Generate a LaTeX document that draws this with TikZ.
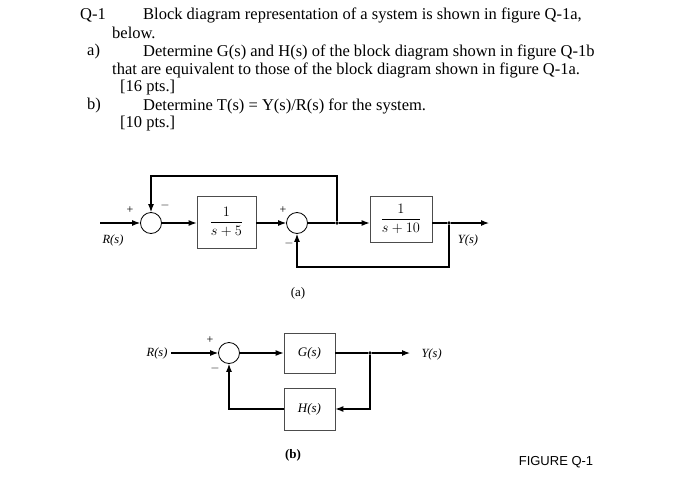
\documentclass[tikz,border=0pt]{standalone}
\usepackage{fontspec}
\setmainfont{Liberation Serif}
\newfontfamily\arialf{Liberation Sans}
\usetikzlibrary{arrows.meta}
\begin{document}
\begin{tikzpicture}[x=1pt,y=-1pt,
  txt/.style={anchor=west,inner sep=0pt,font=\fontsize{16.5}{19}\selectfont},
  blk/.style={draw,minimum width=60pt,minimum height=50pt,inner sep=0pt,line width=0.8pt,draw=black!70,font=\fontsize{13}{15}\selectfont},
  sumj/.style={draw,circle,minimum size=21pt,inner sep=0pt,line width=0.8pt},
  sig/.style={line width=1.1pt,-{Latex[length=8pt,width=6pt]}},
  ln/.style={line width=1.1pt},
  dot/.style={circle,fill,inner sep=1.3pt},
  lab/.style={font=\itshape\fontsize{12.5}{14}\selectfont},
  sg/.style={font=\fontsize{12}{14}\selectfont,inner sep=0pt}]
\useasboundingbox (0,0) rectangle (700,500);
\node[txt] (t1) at (80,15) {Q-1};
\node[txt] (t2) at (143,15) {Block diagram representation of a system is shown in figure Q-1a,};
\node[txt] (t3) at (112,33) {below.};
\node[txt] (t4) at (87,52) {a)};
\node[txt] (t5) at (143,52) {Determine G(s) and H(s) of the block diagram shown in figure Q-1b};
\node[txt] (t6) at (112,70) {that are equivalent to those of the block diagram shown in figure Q-1a.};
\node[txt] (t7) at (120,88) {[16 pts.]};
\node[txt] (t8) at (87,106) {b)};
\node[txt] (t9) at (143,106) {Determine T(s) = Y(s)/R(s) for the system.};
\node[txt] (t10) at (120,124) {[10 pts.]};
% (a)
\coordinate (ain) at (100,223);
\node[sumj] (s1) at (151,223) {};
\node[blk,minimum width=59pt,minimum height=52pt,font=\fontsize{15}{17}\selectfont] (b1) at (226.5,222) {$\displaystyle\frac{1}{s+5}$};
\node[sumj] (s2) at (297,223) {};
\node[blk,minimum width=62pt,minimum height=46pt,font=\fontsize{15}{17}\selectfont] (b2) at (401,219) {$\displaystyle\frac{1}{s+10}$};
\node[dot] (j1) at (337,223) {};
\node[dot] (j2) at (449,223) {};
\coordinate (aout) at (489,223);
\draw[sig] (ain) -- (s1);
\draw[sig] (s1) -- (b1.west|-s1);
\draw[sig] (b1.east|-s2) -- (s2);
\draw[ln] (s2) -- (j1);
\draw[sig] (j1) -- (b2.west|-j1);
\draw[ln] (b2.east|-j2) -- (j2);
\draw[sig] (j2) -- (aout);
\draw[sig] (j1) |- (151,176) -- (s1);
\draw[sig] (j2) |- (297,267) -- (s2);
\node[lab] (rs) at (113,240) {R(s)};
\node[lab] (ys) at (468,240) {Y(s)};
\node[sg] (p1) at (130,210) {+};
\node[sg] (m1) at (165,205) {$-$};
\node[sg] (p2) at (283,210) {+};
\node[sg] (m2) at (289,243) {$-$};
\node[font=\fontsize{13}{15}\selectfont] (ca) at (298,293) {(a)};
% (b)
\node[lab,anchor=east] (rb) at (171,353) {R(s)};
\node[sumj] (s3) at (229,353) {};
\node[blk,minimum width=51pt,minimum height=40pt] (g) at (309.5,353) {\itshape G(s)};
\node[blk,minimum width=51pt,minimum height=42pt] (h) at (309.5,409) {\itshape H(s)};
\node[dot] (j3) at (370,353) {};
\coordinate (bout) at (410,353);
\node[lab,anchor=west] (yb) at (418,354) {Y(s)};
\draw[sig] (rb) -- (s3);
\draw[sig] (s3) -- (g);
\draw[ln] (g) -- (j3);
\draw[sig] (j3) -- (bout);
\draw[sig] (j3) |- (h);
\draw[sig] (h) -| (s3);
\node[sg] (p3) at (210,340) {+};
\node[sg] (m3) at (215,368) {$-$};
\node[font=\bfseries\fontsize{13}{15}\selectfont] (cb) at (293,455) {(b)};
\node[font=\arialf\fontsize{13}{15}\selectfont] (fig) at (556,462) {FIGURE Q-1};
\end{tikzpicture}
\end{document}
